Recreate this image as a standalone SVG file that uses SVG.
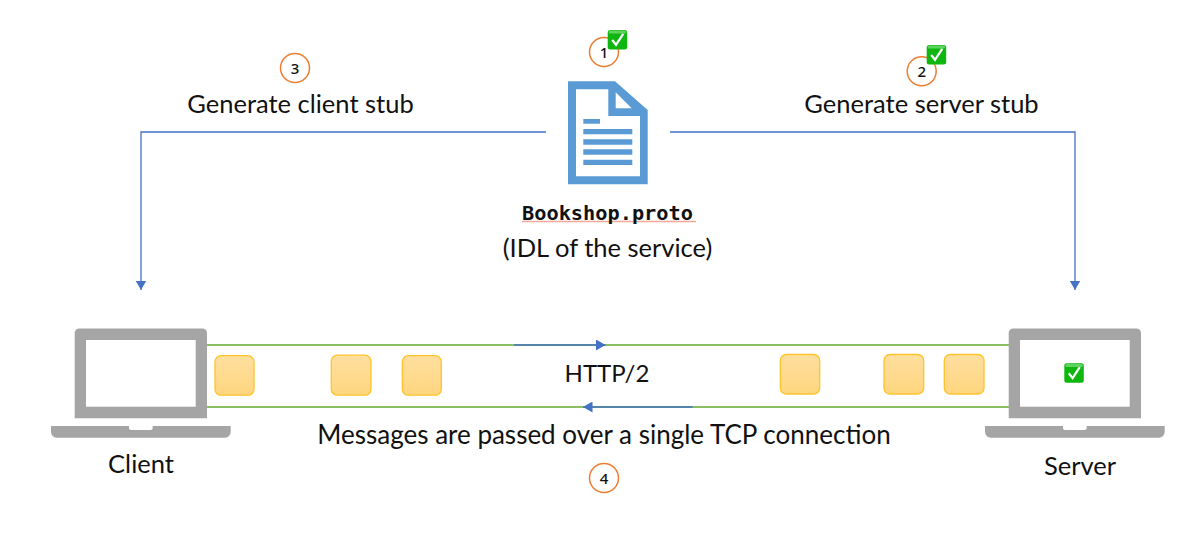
<svg xmlns="http://www.w3.org/2000/svg" xmlns:xlink="http://www.w3.org/1999/xlink" width="1200" height="535" viewBox="0 0 1200 535">
<style>
.t{font-family:"Lato","Noto Sans",sans-serif;font-size:25.500px;fill:#111;text-anchor:middle}
.n{font-family:"Noto Sans","Lato",sans-serif;font-size:15px;font-weight:500;fill:#111;text-anchor:middle}
.c{fill:#fff;stroke:#ed7d31;stroke-width:1.5}
.conn{fill:none;stroke:#4472c4;stroke-width:1.3}
.g{fill:none;stroke:#66a832;stroke-width:1.6}
.m{fill:url(#gold);stroke:#ffc42b;stroke-width:1.3}
.lap{fill:#a5a5a5}
</style>
<defs>
<linearGradient id="gold" x1="0" y1="0" x2="0" y2="1"><stop offset="0" stop-color="#ffdf9f"/><stop offset="1" stop-color="#ffd67f"/></linearGradient>
<marker id="arr" markerUnits="userSpaceOnUse" markerWidth="10" markerHeight="11" refX="9.500" refY="5.500" orient="auto"><path d="M0 0L9.500 5.500L0 11Z" fill="#4472c4"/></marker>
<g id="check"><rect x="0" y="0" width="19.500" height="19.500" rx="2.500" fill="#0fb60f"/><rect x="1" y="0.600" width="17.500" height="3" rx="1.500" fill="#5fd35f"/><path d="M4.500 10L8.300 14.800L15.500 3.800" fill="none" stroke="#fff" stroke-width="2.200"/></g>
<g id="laptop"><path class="lap" d="M74.700 333a4.500 4.500 0 0 1 4.500-4.500h123.300a4.500 4.500 0 0 1 4.500 4.500v85.300H74.700Z"/><rect x="86" y="340" width="109.700" height="66.700" fill="#fff"/><path class="lap" d="M51 426H129v2a2 2 0 0 0 2 2h19.700a2 2 0 0 0 2-2v-2H230.700v6a5.700 5.700 0 0 1-5.700 5.700H56.700a5.700 5.700 0 0 1-5.700-5.700Z"/></g>
</defs>
<rect width="1200" height="535" fill="#fff"/>
<g id="connectors">
<path class="conn" d="M546 132H141V290" marker-end="url(#arr)"/>
<path class="conn" d="M670 132H1075V290" marker-end="url(#arr)"/>
<path class="g" d="M207 345H1009"/>
<path class="g" d="M207 407H1009"/>
<path class="conn" d="M514 345H605.500" marker-end="url(#arr)"/>
<path class="conn" d="M692.700 407H583" marker-end="url(#arr)"/>
</g>
<g id="proto-file">
<path fill="#5b9bd5" fill-rule="evenodd" d="M568 81.300H615L647.700 110V184.300H568ZM576 89.300V176.300H640V116H608.300V89.300ZM615.700 92.300V108.300H631.700Z"/>
<path fill="#5b9bd5" d="M583.300 119H600V123.700H583.300ZM583.300 129H632.300V134.300H583.300ZM583.300 139.300H632.300V144.700H583.300ZM583.300 149.300H632.300V154.700H583.300ZM583.300 159.700H632.300V165H583.300Z"/>
<path d="M522 221.500H696" fill="none" stroke="#f2a898" stroke-width="1.300"/>
<text x="607.500" y="219.500" font-family="'DejaVu Sans Mono','Liberation Mono',monospace" font-weight="700" font-size="20.300" fill="#111" text-anchor="middle">Bookshop.proto</text>
<text class="t" x="607.500" y="257">(IDL of the service)</text>
</g>
<g id="step-1"><circle class="c" cx="604" cy="52" r="14.500"/><text class="n" x="604" y="57.500">1</text><use xlink:href="#check" href="#check" x="607.700" y="30"/></g>
<g id="step-2"><circle class="c" cx="921.700" cy="71.300" r="14.500"/><text class="n" x="921.700" y="76.800">2</text><use xlink:href="#check" href="#check" x="926.700" y="45"/></g>
<g id="step-3"><circle class="c" cx="295" cy="68" r="14.500"/><text class="n" x="295" y="73.500">3</text></g>
<g id="step-4"><circle class="c" cx="604" cy="478" r="14.500"/><text class="n" x="604" y="483.500">4</text></g>
<g id="label-client-stub"><text class="t" x="300.500" y="113">Generate client stub</text></g>
<g id="label-server-stub"><text class="t" x="921.500" y="113">Generate server stub</text></g>
<g id="client"><use xlink:href="#laptop" href="#laptop"/><text class="t" x="141" y="473">Client</text></g>
<g id="server"><use xlink:href="#laptop" href="#laptop" x="934"/><use xlink:href="#check" href="#check" x="1064.300" y="363.300"/><text class="t" x="1080" y="475">Server</text></g>
<g id="messages">
<rect class="m" x="215" y="355.700" width="39" height="39.500" rx="6"/>
<rect class="m" x="331.300" y="355.200" width="39.700" height="40" rx="6"/>
<rect class="m" x="402.300" y="355.700" width="39" height="39.500" rx="6"/>
<rect class="m" x="780.300" y="354.500" width="39.400" height="39.500" rx="6"/>
<rect class="m" x="884" y="354.500" width="39.700" height="39.500" rx="6"/>
<rect class="m" x="944.300" y="354.500" width="39.700" height="39.500" rx="6"/>
</g>
<g id="label-http"><text class="t" x="607" y="382" style="font-size:24px">HTTP/2</text></g>
<g id="label-messages"><text class="t" x="604" y="444" style="font-size:26px">Messages are passed over a single TCP connection</text></g>
</svg>
